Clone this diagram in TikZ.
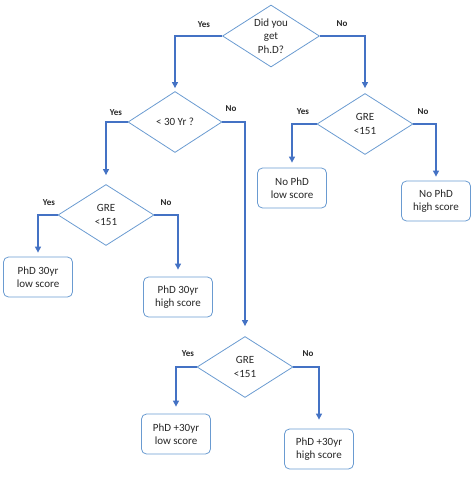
\documentclass[tikz,border=0pt]{standalone}
\usepackage{fontspec}
\setmainfont{Carlito}
\usetikzlibrary{shapes.geometric,arrows.meta}
\definecolor{arrowblue}{HTML}{4472C4}
\definecolor{shapeblue}{HTML}{6A9BD1}
\definecolor{txtgray}{HTML}{262626}
\begin{document}
\begin{tikzpicture}[x=1pt,y=-1pt,
  dia/.style={diamond,draw=shapeblue,line width=0.8pt,inner sep=0pt,minimum width=96pt,minimum height=61pt},
  dtxt/.style={align=center,font=\fontsize{11}{13.5}\selectfont,text=txtgray,inner sep=0pt},
  leaf/.style={draw=shapeblue,line width=0.8pt,rounded corners=5pt,minimum width=69pt,minimum height=40pt,align=center,font=\fontsize{11}{13}\selectfont,text=txtgray,inner sep=1pt},
  yn/.style={font=\bfseries\fontsize{9}{10}\selectfont,text=txtgray,inner sep=0pt},
  conn/.style={draw=arrowblue,line width=1.1pt,-{Triangle[length=6pt,width=6pt]}}]
\useasboundingbox (0,0) rectangle (474,479);
% decision diamonds
\node[dia,minimum width=97pt,minimum height=62pt] (d1) at (271,36) {};
\node[dtxt] (t1) at (d1) {Did you\\get\\Ph.D?};
\node[dia,minimum width=94pt] (d2) at (175,122) {};
\node[dtxt] (t2) at (d2) {< 30 Yr ?};
\node[dia] (d3) at (365,124) {};
\node[dtxt] (t3) at (d3) {GRE\\<151};
\node[dia] (d4) at (106,215) {};
\node[dtxt] (t4) at (d4) {GRE\\<151};
\node[dia] (d7) at (245,367) {};
\node[dtxt] (t7) at (d7) {GRE\\<151};
% leaves
\node[leaf] (b1) at (38,277) {PhD 30yr\\low score};
\node[leaf] (b2) at (178,297) {PhD 30yr\\high score};
\node[leaf] (b3) at (292,188) {No PhD\\low score};
\node[leaf] (b4) at (436,201) {No PhD\\high score};
\node[leaf] (b5) at (176,434) {PhD +30yr\\low score};
\node[leaf] (b6) at (319,449) {PhD +30yr\\high score};
% connectors
\draw[conn,shorten >=3pt] (d1.west) -| (d2.north);
\draw[conn,shorten >=5pt] (d1.east) -| (d3.north);
\draw[conn,shorten >=9pt] (d2.west) -| (d4.north);
\draw[conn,shorten >=10pt] (d2.east) -| (d7.north);
\draw[conn,shorten >=4pt] (d4.west) -| (b1.north);
\draw[conn,shorten >=7pt] (d4.east) -| (b2.north);
\draw[conn,shorten >=5pt] (d3.west) -| (b3.north);
\draw[conn,shorten >=4pt] (d3.east) -| (b4.north);
\draw[conn,shorten >=7pt] (d7.west) -| (b5.north);
\draw[conn,shorten >=9pt] (d7.east) -| (b6.north);
% yes / no labels
\node[yn] (y1) at (204,25) {Yes};
\node[yn] (n1) at (342,24) {No};
\node[yn] (y2) at (116,113) {Yes};
\node[yn] (n2) at (231,109) {No};
\node[yn] (y3) at (303,112) {Yes};
\node[yn] (n3) at (423,112) {No};
\node[yn] (y4) at (49,203) {Yes};
\node[yn] (n4) at (166,203) {No};
\node[yn] (y7) at (188,354) {Yes};
\node[yn] (n7) at (308,354) {No};
\end{tikzpicture}
\end{document}
